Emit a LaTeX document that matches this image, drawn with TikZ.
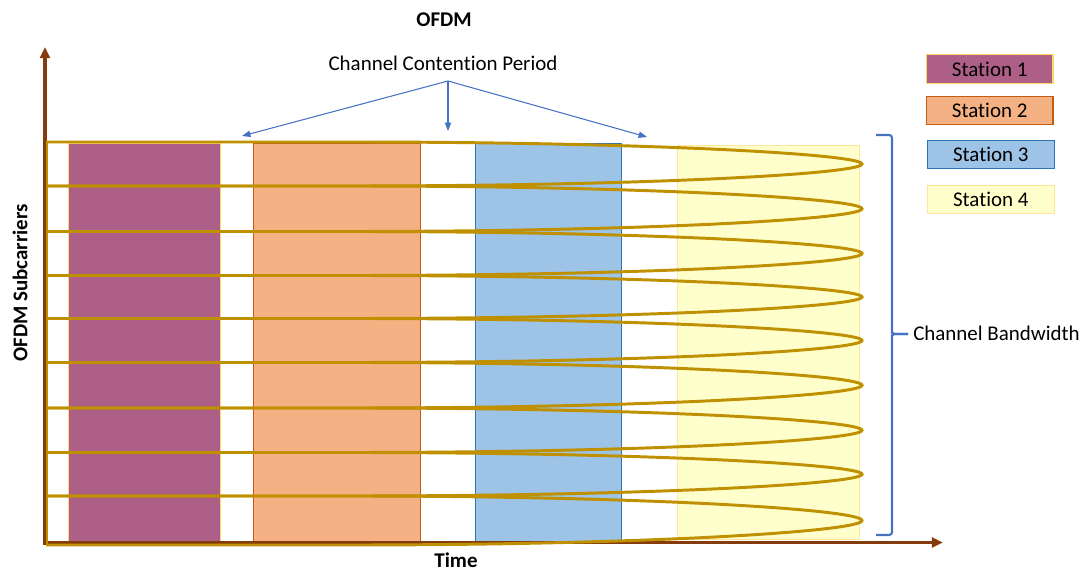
\documentclass[tikz,border=0pt]{standalone}
\usepackage{fontspec}
\setmainfont{Carlito}[Ligatures=NoCommon]
\usetikzlibrary{arrows.meta}
\definecolor{bandgold}{HTML}{BF9000}
\definecolor{axisbrown}{HTML}{843C0C}
\definecolor{noteblue}{HTML}{4472C4}
\definecolor{stOne}{RGB}{173,95,135}
\definecolor{stOneLine}{HTML}{FFD966}
\definecolor{stTwo}{HTML}{F4B183}
\definecolor{stTwoLine}{HTML}{C55A11}
\definecolor{stThree}{HTML}{9DC3E6}
\definecolor{stThreeLine}{HTML}{2E75B6}
\definecolor{stFour}{HTML}{FFFFCC}
\definecolor{stFourLine}{HTML}{FFE699}
\begin{document}
\begin{tikzpicture}[x=0.025cm, y=-0.025cm,
  txt/.style={font=\fontsize{14.9}{18}\selectfont, inner sep=0pt},
  boldtxt/.style={txt, font=\fontsize{14.9}{18}\selectfont\bfseries},
  axis/.style={axisbrown, line width=2.3pt, -{Triangle[length=8pt,width=7pt]}},
  band/.style={bandgold, line width=2.1pt},
  note/.style={noteblue, line width=0.75pt, -{Triangle[length=6pt,width=4.5pt]}},
  bracket/.style={noteblue, line width=1.5pt, rounded corners=2pt},
  legend/.style={txt, draw, line width=0.75pt, minimum width=90pt, minimum height=20pt}]
\useasboundingbox (0,0) rectangle (1087,576);

% one band of the subcarrier spiral, from left edge a to left edge b
\def\lobe#1#2{%
  \pgfmathsetmacro\lobemid{(#1+#2)/2}%
  \pgfmathsetmacro\lobeup{#1+0.28*(#2-#1)}%
  \pgfmathsetmacro\lobedn{#2-0.28*(#2-#1)}%
  \draw[band] (46,#1) -- (350,#1) .. controls (650,#1) and (862,\lobeup) .. (862,\lobemid)
    .. controls (862,\lobedn) and (650,#2) .. (350,#2) -- (46,#2);}

% station time slots
\filldraw[fill=stOne, draw=stOneLine, line width=0.7pt] (68,143) rectangle (220,541.5);
\filldraw[fill=stTwo, draw=stTwoLine, line width=0.7pt] (253,143) rectangle (420,541.5);
\filldraw[fill=stThree, draw=stThreeLine, line width=0.7pt] (475,143) rectangle (621,541.5);
\filldraw[fill=stFour, draw=stFourLine, line width=0.7pt] (677,145) rectangle (859,539);

% axes
\coordinate (origin) at (45,545);
\coordinate (ytop) at (45,47);
\coordinate (xstart) at (45,542.5);
\coordinate (xend) at (943,542.5);
\draw[axis] (origin) -- (ytop);
\draw[axis] (xstart) -- (xend);

% subcarrier bands
\draw[band] (47,142) -- (47,545);
\lobe{142}{186}
\lobe{186}{231.5}
\lobe{231.5}{275.5}
\lobe{275.5}{318.5}
\lobe{318.5}{362.5}
\lobe{362.5}{408}
\lobe{408}{452.5}
\lobe{452.5}{496}
\lobe{496}{545}

% labels
\node[boldtxt] (title) at (444,19.5) {OFDM};
\node[boldtxt] (time) at (456,560) {Time};
\node[boldtxt, rotate=90] (subc) at (20,283) {OFDM Subcarriers};
\node[txt, anchor=base] (ccp) at (443,71) {Channel Contention Period};

% contention arrows
\coordinate (ccpfoot) at (448,81);
\coordinate (gapone) at (242,136);
\coordinate (gaptwo) at (448,131);
\coordinate (gapthree) at (647,137);
\draw[note] (ccpfoot) -- (gapone);
\draw[note] (ccpfoot) -- (gaptwo);
\draw[note] (ccpfoot) -- (gapthree);

% bandwidth bracket
\coordinate (bwtop) at (876,135);
\coordinate (bwtip) at (908,334);
\coordinate (bwbot) at (876,535);
\draw[bracket] (bwtop) -- (892,135) -- (892,330) to[out=-90,in=180] (897,334) -- (bwtip);
\draw[bracket] (bwbot) -- (892,535) -- (892,338) to[out=90,in=180] (897,334) -- (bwtip);
\node[txt, anchor=base west] (bw) at (913,341) {Channel Bandwidth};

% legend
\node[legend, fill=stOne, draw=stOneLine] (st1) at (989.7,69) {Station 1};
\node[legend, fill=stTwo, draw=stTwoLine] (st2) at (989.7,110.5) {Station 2};
\node[legend, fill=stThree, draw=stThreeLine] (st3) at (990.8,154.3) {Station 3};
\node[legend, fill=stFour, draw=stFourLine] (st4) at (990.8,199.7) {Station 4};
\end{tikzpicture}
\end{document}
